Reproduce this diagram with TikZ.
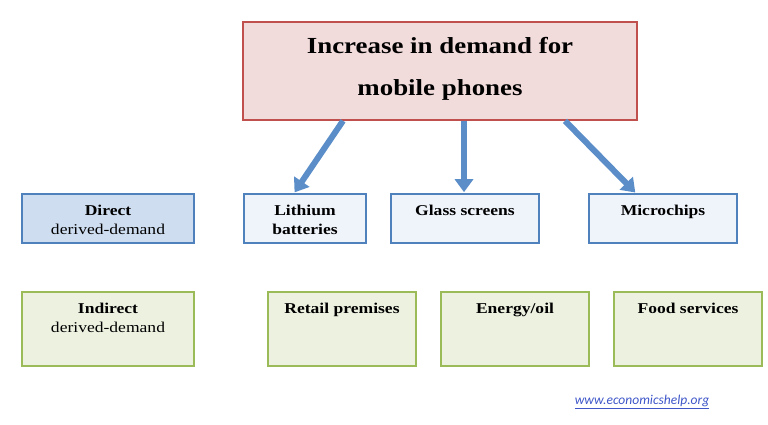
\documentclass[tikz,border=0pt]{standalone}
\usepackage{fontspec}
\setmainfont{Liberation Serif}[FakeStretch=1.17]
\newfontfamily\urlfont{Carlito}
\usetikzlibrary{arrows.meta}
\definecolor{toppink}{RGB}{242,220,219}
\definecolor{topred}{RGB}{192,80,77}
\definecolor{dirblue}{RGB}{206,221,240}
\definecolor{paleblue}{RGB}{239,243,250}
\definecolor{edgeblue}{RGB}{79,129,189}
\definecolor{palegreen}{RGB}{236,241,224}
\definecolor{edgegreen}{RGB}{155,187,89}
\definecolor{arrowblue}{RGB}{91,142,201}
\definecolor{linkblue}{RGB}{62,86,200}
\begin{document}
\begin{tikzpicture}[x=1pt,y=-1pt,
  box/.style={draw,line width=1.6pt,inner sep=0pt},
  bluebox/.style={box,draw=edgeblue,fill=paleblue,minimum width=148pt,minimum height=49pt},
  greenbox/.style={box,draw=edgegreen,fill=palegreen,minimum width=148pt,minimum height=74pt},
  boxtext/.style={anchor=north,inner sep=0pt,yshift=-11.5pt,align=center,font=\fontsize{15}{19}\selectfont},
  demandarrow/.style={-{Triangle[length=13pt,width=18pt]},line width=6pt,draw=arrowblue,shorten >=1pt}]
  \useasboundingbox (0,0) rectangle (768,424);
  % top box
  \node[box,draw=topred,fill=toppink,minimum width=394pt,minimum height=98pt] (phones) at (440,71) {};
  \node[anchor=north,inner sep=0pt,yshift=-15.5pt,align=center,font=\fontsize{23}{42}\selectfont\bfseries]
    (phonestxt) at (phones.north) {Increase in demand for\\mobile phones};
  % direct row
  \node[bluebox,fill=dirblue,minimum width=172pt] (direct) at (108,218.5) {};
  \node[bluebox,minimum width=122pt] (lithium) at (305,218.5) {};
  \node[bluebox] (glass) at (465,218.5) {};
  \node[bluebox] (chips) at (663,218.5) {};
  \node[boxtext] (directtxt) at (direct.north) {\textbf{Direct}\\derived-demand};
  \node[boxtext] (lithiumtxt) at (lithium.north) {\textbf{Lithium}\\\textbf{batteries}};
  \node[boxtext] (glasstxt) at (glass.north) {\textbf{Glass screens}};
  \node[boxtext] (chipstxt) at (chips.north) {\textbf{Microchips}};
  % indirect row
  \node[greenbox,minimum width=172pt] (indirect) at (108,329) {};
  \node[greenbox] (retail) at (342,329) {};
  \node[greenbox] (energy) at (515,329) {};
  \node[greenbox] (food) at (688,329) {};
  \node[boxtext] (indirecttxt) at (indirect.north) {\textbf{Indirect}\\derived-demand};
  \node[boxtext] (retailtxt) at (retail.north) {\textbf{Retail premises}};
  \node[boxtext] (energytxt) at (energy.north) {\textbf{Energy/oil}};
  \node[boxtext] (foodtxt) at (food.north) {\textbf{Food services}};
  % arrows
  \draw[demandarrow] ([xshift=-97pt]phones.south) -- ([xshift=-11pt]lithium.north);
  \draw[demandarrow] ([xshift=24pt]phones.south) -- ([xshift=-1pt]glass.north);
  \draw[demandarrow] ([xshift=125pt]phones.south) -- ([xshift=-27pt]chips.north);
  % source
  \node[anchor=base,inner sep=0pt,font=\urlfont\itshape\fontsize{13.5}{16}\selectfont,text=linkblue]
    (url) at (642,404) {\underline{www.economicshelp.org}};
\end{tikzpicture}
\end{document}
